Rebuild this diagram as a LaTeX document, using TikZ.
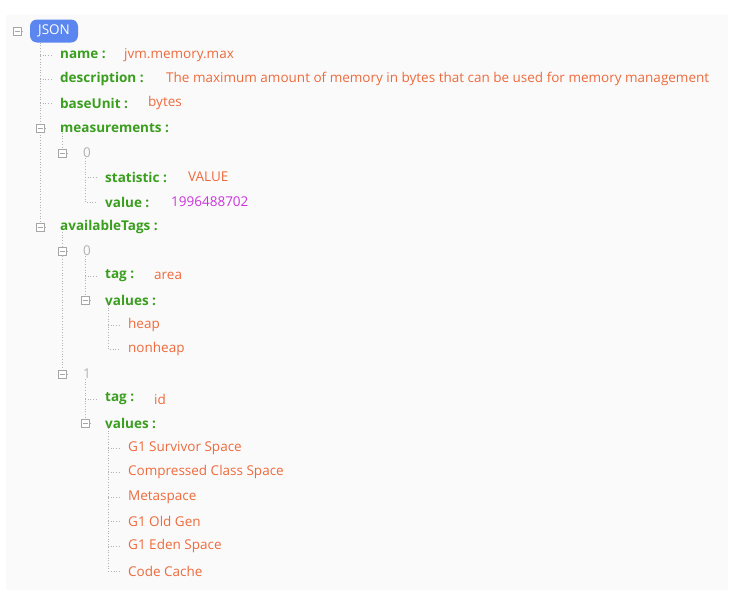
\documentclass[tikz,border=0pt]{standalone}
\usepackage{fontspec}
\setmainfont{Open Sans}
\usetikzlibrary{calc}
\begin{document}
\begin{tikzpicture}[x=1pt,y=-1pt,
  key/.style={font=\fontsize{13.5}{15}\selectfont\bfseries, text=keyc, anchor=west, inner sep=0},
  val/.style={font=\fontsize{13.5}{15}\selectfont, text=valc, anchor=west, inner sep=0},
  idx/.style={font=\fontsize{13.5}{15}\selectfont, text=gray!60, anchor=west, inner sep=0},
  tog/.style={draw=gray!70, fill=white, minimum size=8pt, inner sep=0, line width=0.6pt},
  tl/.style={gray!60, dotted, line width=0.7pt}]
\definecolor{keyc}{HTML}{3A9E1E}
\definecolor{valc}{HTML}{EE6A3C}
\definecolor{numc}{HTML}{CC33DD}
\definecolor{jsonc}{HTML}{5B86F0}
\useasboundingbox (0,0) rectangle (737,600);
\fill[gray!4] (6,15) rectangle (728,590);
% vertical lines
\draw[tl] (40,40) -- (40,227);
\draw[tl] (62,133) -- (62,153);
\draw[tl] (85,158) -- (85,202) -- (97,202);
\draw[tl] (85,177) -- (97,177);
\draw[tl] (62,232) -- (62,374);
\draw[tl] (85,256) -- (85,300);
\draw[tl] (85,276) -- (97,276);
\draw[tl] (108,305) -- (108,349) -- (120,349);
\draw[tl] (108,325) -- (120,325);
\draw[tl] (85,379) -- (85,423);
\draw[tl] (85,399) -- (97,399);
\draw[tl] (108,428) -- (108,571) -- (120,571);
\foreach \y in {448,472,497,521,546} \draw[tl] (108,\y) -- (120,\y);
\foreach \y in {55,79,103} \draw[tl] (40,\y) -- (52,\y);
\foreach \y/\x in {31/17,128/40,153/62,227/40,251/62,300/85,374/62,423/85} \draw[tl] (\x,\y) -- (\x+8,\y);
% toggles
\foreach \n/\x/\y in {t0/17/31,t1/40/128,t2/62/153,t3/40/227,t4/62/251,t5/85/300,t6/62/374,t7/85/423}{
  \node[tog] (\n) at (\x,\y) {};
  \draw[gray!70,line width=0.8pt] ($(\n)+(-2.5,0)$) -- ($(\n)+(2.5,0)$);}
% root
\node[fill=jsonc, text=white, rounded corners=7pt, minimum width=48pt, minimum height=23pt, inner sep=0, font=\fontsize{13.5}{15}\selectfont] (json) at (54,31) {JSON};
% level 1
\node[key] (k1) at (60,55) {name :}; \node[val] (v1) at (124,55) {jvm.memory.max};
\node[key] (k2) at (60,79) {description :}; \node[val] (v2) at (166,79) {The maximum amount of memory in bytes that can be used for memory management};
\node[key] (k3) at (60,103) {baseUnit :}; \node[val] (v3) at (148,103) {bytes};
\node[key] (k4) at (60,128) {measurements :};
\node[idx] (i0) at (83,153) {0};
\node[key] (k5) at (105,177) {statistic :}; \node[val] (v5) at (188,177) {VALUE};
\node[key] (k6) at (105,202) {value :}; \node[val, text=numc] (v6) at (171,202) {1996488702};
\node[key] (k7) at (60,227) {availableTags :};
\node[idx] (i1) at (83,251) {0};
\node[key] (k8) at (105,276) {tag :}; \node[val] (v8) at (154,276) {area};
\node[key] (k9) at (105,300) {values :};
\node[val] (h1) at (128,325) {heap};
\node[val] (h2) at (128,349) {nonheap};
\node[idx] (i2) at (83,374) {1};
\node[key] (k10) at (105,399) {tag :}; \node[val] (v10) at (154,399) {id};
\node[key] (k11) at (105,423) {values :};
\node[val] (g1) at (128,448) {G1 Survivor Space};
\node[val] (g2) at (128,472) {Compressed Class Space};
\node[val] (g3) at (128,497) {Metaspace};
\node[val] (g4) at (128,521) {G1 Old Gen};
\node[val] (g5) at (128,546) {G1 Eden Space};
\node[val] (g6) at (128,571) {Code Cache};
\end{tikzpicture}
\end{document}
